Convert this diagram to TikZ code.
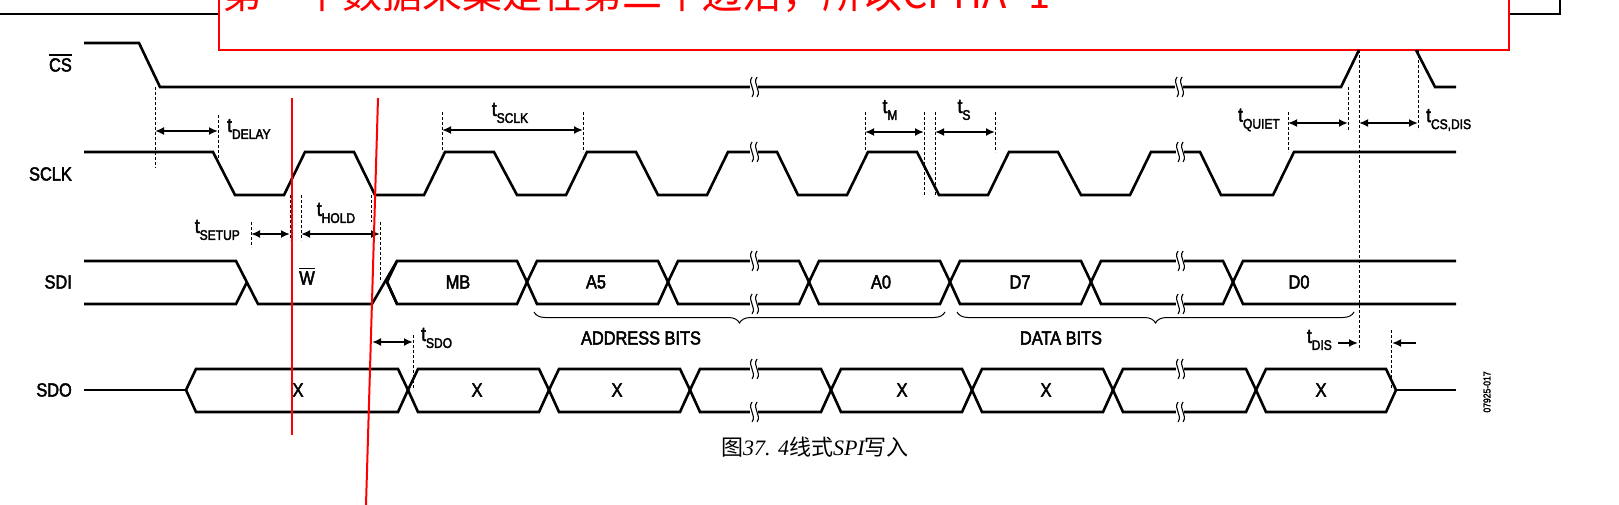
\documentclass[tikz,border=0pt]{standalone}
\usepackage{fontspec}
\setmainfont{Liberation Sans}[FakeStretch=0.86,FakeBold=2.5]
\newfontfamily\cjk{Noto Sans CJK SC}
\newfontfamily\serifit{Liberation Serif}
\usetikzlibrary{arrows.meta,decorations.pathreplacing}
\tikzset{
 sig/.style={line width=2.6pt,line join=miter},
 dsh/.style={densely dashed,line width=0.7pt},
 dim/.style={line width=2pt,{Latex[length=9pt,width=8pt]}-{Latex[length=9pt,width=8pt]}},
 lbl/.style={font=\fontsize{19}{21}\selectfont,inner sep=0pt},
 tl/.style={font=\fontsize{20}{22}\selectfont,inner sep=0pt},
 redl/.style={red,line width=2pt},
 ovl/.style={line width=1.3pt},
}
\newcommand{\tsub}[1]{t\raisebox{-0.35em}{\fontsize{14}{15}\selectfont #1}}
\newcommand{\brk}[2]{%
 \fill[white] (#1-4,#2-9) rectangle (#1+4,#2+9);
 \draw[line width=1.1pt] (#1-2,#2-10) .. controls (#1-7,#2-3) and (#1+3,#2+3) .. (#1-2,#2+10);
 \draw[line width=1.1pt] (#1+3,#2-10) .. controls (#1-2,#2-3) and (#1+8,#2+3) .. (#1+3,#2+10);}
\newcommand{\seg}[4]{\draw[sig] (#1,#4) -- (#1+10,#3) -- (#2-10,#3) -- (#2,#4) -- (#2-10,#3+43) -- (#1+10,#3+43) -- cycle;}
\begin{document}
\begin{tikzpicture}[x=1pt,y=-1pt]
\useasboundingbox (0,0) rectangle (1619,505);
\clip (0,0) rectangle (1619,505);
% background black box and red note
\draw[line width=2.5pt] (-10,-60) rectangle (1560,14);
\draw[red,line width=2pt,fill=white] (219,-60) rectangle (1509,50);
\node[anchor=base west,inner sep=0pt,red,font=\cjk\fontsize{40}{42}\selectfont] (note) at (222,9) {第一个数据采集是在第二个边沿，所以CPHA=1};
% labels
\node[lbl,anchor=east] (lcs) at (72,65) {CS};
\draw[ovl] ([yshift=3pt]lcs.north west) -- ([yshift=3pt]lcs.north east);
\node[lbl,anchor=east] (lsclk) at (72,174) {SCLK};
\node[lbl,anchor=east] (lsdi) at (72,282) {SDI};
\node[lbl,anchor=east] (lsdo) at (72,390) {SDO};
% CS
\draw[sig] (84,43) -- (139,43) -- (160,87) -- (1341,87) -- (1359,50);
\draw[sig] (1416,50) -- (1435,87) -- (1456,87);
\brk{754}{87}\brk{1179}{87}
% SCLK
\draw[sig] (84,152) -- (213,152)
 foreach \r in {305,445,587,728,868,1009,1151} { -- (\r-70,195) -- (\r-21,195) -- (\r,152) -- (\r+49,152) }
 -- (1221,195) -- (1273,195) -- (1294,152) -- (1456,152);
\brk{754}{152}\brk{1180}{152}
% SDI
\draw[sig] (84,261) -- (236,261) -- (258,304) -- (372,304) -- (397,261);
\draw[sig] (84,304) -- (236,304) -- (247,282);
\draw[sig] (387,282) -- (397,304);
\seg{387}{527}{261}{282}
\seg{527}{668}{261}{282}
\seg{668}{809}{261}{282}
\seg{809}{950}{261}{282}
\seg{950}{1091}{261}{282}
\seg{1091}{1233}{261}{282}
\draw[sig] (1456,261) -- (1243,261) -- (1233,282) -- (1243,304) -- (1456,304);
\brk{754}{261}\brk{754}{304}\brk{1180}{261}\brk{1180}{304}
\node[lbl] (w) at (307,278) {W};
\draw[ovl] ([yshift=3pt]w.north west) -- ([yshift=3pt]w.north east);
\node[lbl] (mb) at (458,282) {MB};
\node[lbl] (a5) at (596,282) {A5};
\node[lbl] (a0) at (881,282) {A0};
\node[lbl] (d7) at (1020,282) {D7};
\node[lbl] (d0) at (1299,282) {D0};
% SDO
\draw[sig] (84,390) -- (186,390);
\seg{186}{408}{369}{390}
\seg{408}{549}{369}{390}
\seg{549}{690}{369}{390}
\seg{690}{831}{369}{390}
\seg{831}{972}{369}{390}
\seg{972}{1113}{369}{390}
\seg{1113}{1256}{369}{390}
\seg{1256}{1396}{369}{390}
\draw[sig] (1396,390) -- (1456,390);
\brk{754}{369}\brk{754}{412}\brk{1180}{369}\brk{1180}{412}
\foreach \x/\n in {298/x1,477/x2,617/x3,902/x4,1046/x5,1321/x6} \node[lbl] (\n) at (\x,390) {X};
% braces
\draw[line width=1pt,decorate,decoration={brace,amplitude=11pt,mirror}] (534,312) -- (945,312);
\draw[line width=1pt,decorate,decoration={brace,amplitude=11pt,mirror}] (957,312) -- (1354,312);
\node[lbl] (addr) at (641,338) {ADDRESS BITS};
\node[lbl] (data) at (1061,338) {DATA BITS};
% timing dashes and arrows
\draw[dsh] (155,87) -- (155,168);
\draw[dsh] (218,115) -- (218,158);
\draw[dim] (155,131) -- (218,131);
\node[tl,anchor=west] (tdelay) at (227,129) {\tsub{DELAY}};
\draw[dsh] (442,112) -- (442,152);
\draw[dsh] (583,112) -- (583,152);
\draw[dim] (442,130) -- (583,130);
\node[tl] (tsclk) at (510,113) {\tsub{SCLK}};
\draw[dsh] (865,112) -- (865,152);
\draw[dsh] (924,112) -- (924,195);
\draw[dim] (865,132) -- (924,132);
\node[tl] (tm) at (890,110) {\tsub{M}};
\draw[dsh] (935,112) -- (935,195);
\draw[dsh] (995,112) -- (995,152);
\draw[dim] (935,132) -- (995,132);
\node[tl] (ts) at (964,110) {\tsub{S}};
\draw[dsh] (1288,112) -- (1288,152);
\draw[dsh] (1348,87) -- (1348,130);
\draw[dim] (1288,123) -- (1348,123);
\node[tl,anchor=east] (tquiet) at (1280,120) {\tsub{QUIET}};
\draw[dsh] (1359,50) -- (1359,350);
\draw[dsh] (1418,50) -- (1418,130);
\draw[dim] (1359,123) -- (1418,123);
\node[tl,anchor=west] (tcsdis) at (1426,120) {\tsub{CS,DIS}};
\draw[dsh] (251,222) -- (251,247);
\draw[dsh] (290,195) -- (290,240);
\draw[dsh] (301,195) -- (301,240);
\draw[dsh] (371,195) -- (371,222);
\draw[dsh] (380,222) -- (380,282);
\draw[dim] (251,234) -- (290,234);
\draw[dim] (301,234) -- (380,234);
\node[tl,anchor=east] (tsetup) at (240,230) {\tsub{SETUP}};
\node[tl] (thold) at (336,213) {\tsub{HOLD}};
\draw[dsh] (413,335) -- (413,390);
\draw[dim] (372,342) -- (413,342);
\node[tl,anchor=west] (tsdo) at (421,338) {\tsub{SDO}};
\draw[line width=2pt,-{Latex[length=9pt,width=8pt]}] (1338,343) -- (1358,343);
\draw[line width=2pt,-{Latex[length=9pt,width=8pt]}] (1416,343) -- (1392,343);
\draw[dsh] (1391,330) -- (1391,390);
\node[tl,anchor=east] (tdis) at (1332,340) {\tsub{DIS}};
\node[rotate=90,font=\fontsize{10}{11}\selectfont] (code) at (1487,392) {07925-017};
% caption
\node[font=\fontsize{22}{24}\selectfont] (cap) at (815,447) {{\cjk 图}{\serifit\itshape 37. 4}{\cjk 线式}{\serifit\itshape SPI}{\cjk 写入}};
% red lines
\draw[redl] (292,98) -- (292,435);
\draw[redl] (378,98) -- (366,505);
\end{tikzpicture}
\end{document}
